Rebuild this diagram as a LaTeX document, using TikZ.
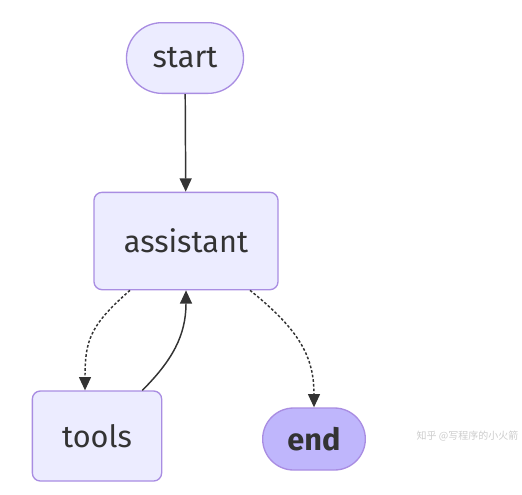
\documentclass[tikz,border=0pt]{standalone}
\usepackage{fontspec}
\setmainfont{Fira Sans}
\newfontfamily\cjk{Noto Sans CJK SC}
\usetikzlibrary{shapes.misc,arrows.meta}
\definecolor{nodefill}{HTML}{ECECFF}
\definecolor{nodeline}{HTML}{9370DB}
\definecolor{endfill}{HTML}{BFB6FC}
\definecolor{labeltext}{HTML}{333333}

\begin{document}
\begin{tikzpicture}[x=0.75pt,y=-0.75pt]
  \tikzstyle{base}=[draw=nodeline!80,fill=nodefill,line width=1pt,text=labeltext,font=\fontsize{23}{27}\selectfont,inner sep=0pt]
  \tikzstyle{box}=[base,rectangle,rounded corners=6pt]
  \tikzstyle{term}=[base,rounded rectangle]
  \tikzstyle{edge}=[-{Triangle[length=10pt,width=9pt]},line width=1.1pt,draw=labeltext]
  \tikzstyle{cond}=[edge,dash pattern=on 2pt off 1.5pt]
  \useasboundingbox (0,0) rectangle (522,494);
  % nodes
  \node[term,minimum width=87.75pt,minimum height=53pt] (start) at (185,58) {start};
  \node[box,minimum width=138pt,minimum height=73pt] (assistant) at (186,241) {assistant};
  \node[box,minimum width=97pt,minimum height=67.5pt] (tools) at (97,436) {tools};
  \node[term,fill=endfill,minimum width=77pt,minimum height=46.5pt,font=\fontsize{23}{27}\selectfont\bfseries] (end) at (314,439) {end};
  \node[text=gray!40,font=\cjk\fontsize{7.5}{9}\selectfont,anchor=west] (mark) at (412,436) {知乎 @写程序的小火箭};
  % edges
  \draw[edge] (start) -- (assistant);
  \draw[cond] ([xshift=-42pt]assistant.south) .. controls +(-40,35) and +(0,-50) .. ([xshift=-9pt]tools.north);
  \draw[edge] ([xshift=34pt]tools.north) .. controls +(30,-30) and +(0,45) .. (assistant.south);
  \draw[cond] ([xshift=48pt]assistant.south) .. controls +(50,40) and +(0,-50) .. (end.north);
\end{tikzpicture}
\end{document}
